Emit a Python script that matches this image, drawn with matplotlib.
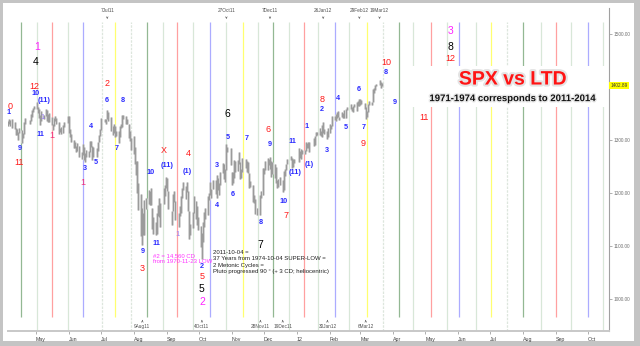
import numpy as np
import pandas as pd
import matplotlib
matplotlib.use('Agg')
import matplotlib.pyplot as plt
import matplotlib.dates as mdates
import matplotlib.patheffects as pe
from matplotlib.patches import Rectangle
from matplotlib.transforms import blended_transform_factory

plt.rcParams['font.family'] = ['Liberation Sans', 'DejaVu Sans']

# SPX daily bars, 2011-04-05 .. 2012-03-21
holidays = ['2011-04-22', '2011-05-30', '2011-07-04', '2011-09-05', '2011-11-24',
            '2011-12-26', '2012-01-02', '2012-01-16', '2012-02-20']

highs = [
    # Apr 2011
    1335, 1339, 1338, 1339, 1333, 1322, 1321, 1315, 1322, 1319, 1313, 1334, 1341,
    1338, 1349, 1357, 1361, 1364,
    # May
    1371, 1362, 1358, 1348, 1354, 1348, 1359, 1357, 1349, 1350, 1344, 1330, 1341,
    1346, 1342, 1333, 1323, 1325, 1328, 1334, 1345,
    # Jun
    1345, 1321, 1312, 1300, 1297, 1288, 1294, 1289, 1277, 1293, 1287, 1275, 1282,
    1280, 1298, 1298, 1288, 1287, 1284, 1296, 1309, 1321,
    # Jul
    1341, 1340, 1340, 1356, 1353, 1343, 1327, 1331, 1326, 1317, 1316, 1327, 1330,
    1347, 1347, 1345, 1339, 1330, 1316, 1304,
    # Aug
    1307, 1287, 1261, 1260, 1218, 1199, 1172, 1163, 1186, 1190, 1205, 1203, 1209,
    1171, 1154, 1145, 1162, 1178, 1190, 1182, 1210, 1215, 1230,
    # Sep
    1228, 1204, 1166, 1198, 1204, 1184, 1163, 1176, 1194, 1209, 1220, 1214, 1220,
    1204, 1166, 1141, 1164, 1195, 1184, 1175, 1155,
    # Oct
    1138, 1125, 1146, 1165, 1171, 1195, 1200, 1220, 1207, 1225, 1224, 1233, 1229,
    1219, 1239, 1256, 1254, 1246, 1293, 1287, 1284,
    # Nov
    1240, 1239, 1263, 1260, 1262, 1277, 1259, 1246, 1266, 1264, 1260, 1259, 1237,
    1222, 1215, 1197, 1188, 1172, 1197, 1204, 1247,
    # Dec
    1248, 1260, 1266, 1264, 1267, 1260, 1258, 1255, 1249, 1225, 1226, 1231, 1224,
    1242, 1245, 1255, 1265, 1269, 1266, 1264, 1264,
    # Jan 2012
    1285, 1279, 1283, 1282, 1282, 1296, 1294, 1297, 1296, 1303, 1308, 1315, 1315,
    1322, 1316, 1328, 1333, 1320, 1316, 1322,
    # Feb
    1330, 1329, 1345, 1345, 1349, 1352, 1354, 1343, 1353, 1351, 1356, 1359, 1363,
    1367, 1362, 1364, 1368, 1371, 1373, 1378,
    # Mar
    1377, 1375, 1370, 1363, 1354, 1368, 1374, 1372, 1396, 1399, 1403, 1405, 1414,
    1409, 1408,
]

lows = [
    1327, 1330, 1326, 1322, 1321, 1309, 1309, 1300, 1313, 1295, 1303, 1312, 1331,
    1331, 1335, 1343, 1352, 1358,
    1359, 1350, 1341, 1329, 1335, 1339, 1346, 1336, 1333, 1334, 1329, 1318, 1326,
    1336, 1331, 1312, 1315, 1312, 1314, 1325, 1332,
    1313, 1305, 1297, 1284, 1284, 1277, 1280, 1268, 1265, 1271, 1262, 1258, 1267,
    1267, 1278, 1286, 1262, 1267, 1267, 1280, 1296, 1307,
    1319, 1333, 1330, 1340, 1335, 1316, 1310, 1314, 1306, 1307, 1295, 1306, 1322,
    1325, 1339, 1331, 1330, 1303, 1299, 1282,
    1274, 1254, 1234, 1200, 1168, 1119, 1101, 1121, 1121, 1170, 1179, 1178, 1177,
    1132, 1123, 1120, 1122, 1156, 1155, 1135, 1179, 1195, 1209,
    1203, 1170, 1140, 1166, 1183, 1149, 1136, 1157, 1163, 1190, 1205, 1189, 1201,
    1166, 1114, 1121, 1133, 1163, 1150, 1139, 1131,
    1099, 1075, 1107, 1135, 1150, 1159, 1187, 1196, 1190, 1207, 1198, 1191, 1206,
    1197, 1215, 1238, 1226, 1221, 1243, 1278, 1253,
    1215, 1218, 1228, 1239, 1241, 1255, 1226, 1229, 1239, 1248, 1240, 1237, 1210,
    1212, 1183, 1181, 1161, 1159, 1159, 1191, 1196,
    1236, 1243, 1244, 1253, 1246, 1231, 1235, 1228, 1219, 1209, 1212, 1215, 1202,
    1205, 1232, 1243, 1254, 1262, 1248, 1249, 1257,
    1258, 1266, 1265, 1274, 1273, 1280, 1285, 1285, 1277, 1289, 1290, 1308, 1309,
    1309, 1307, 1306, 1313, 1311, 1301, 1306,
    1313, 1321, 1326, 1338, 1336, 1342, 1344, 1337, 1343, 1341, 1341, 1341, 1357,
    1358, 1355, 1352, 1363, 1355, 1365, 1364,
    1366, 1368, 1359, 1340, 1344, 1352, 1366, 1366, 1372, 1389, 1394, 1401, 1403,
    1398, 1401,
]

closes = [
    1332, 1335, 1333, 1328, 1324, 1314, 1314, 1314, 1320, 1305, 1312, 1331, 1338,
    1335, 1348, 1355, 1360, 1364,
    1361, 1357, 1348, 1336, 1340, 1347, 1357, 1342, 1348, 1337, 1329, 1328, 1340,
    1344, 1333, 1317, 1316, 1320, 1325, 1331, 1345,
    1315, 1312, 1300, 1286, 1285, 1280, 1289, 1271, 1271, 1288, 1265, 1268, 1272,
    1278, 1296, 1288, 1283, 1268, 1280, 1296, 1307, 1321,
    1340, 1337, 1339, 1353, 1344, 1319, 1313, 1317, 1309, 1316, 1305, 1327, 1325,
    1344, 1345, 1337, 1332, 1304, 1300, 1292,
    1287, 1254, 1260, 1200, 1199, 1119, 1172, 1121, 1172, 1179, 1204, 1192, 1193,
    1140, 1124, 1123, 1162, 1177, 1159, 1177, 1210, 1212, 1219,
    1204, 1174, 1166, 1198, 1185, 1154, 1162, 1172, 1188, 1209, 1216, 1204, 1202,
    1166, 1130, 1136, 1163, 1175, 1152, 1160, 1131,
    1099, 1124, 1144, 1165, 1155, 1195, 1195, 1208, 1204, 1225, 1200, 1225, 1209,
    1215, 1238, 1254, 1229, 1242, 1285, 1285, 1253,
    1218, 1237, 1261, 1253, 1261, 1276, 1229, 1239, 1264, 1252, 1258, 1237, 1216,
    1215, 1193, 1188, 1162, 1159, 1192, 1196, 1247,
    1244, 1244, 1257, 1259, 1262, 1235, 1255, 1236, 1225, 1212, 1216, 1220, 1205,
    1241, 1243, 1254, 1265, 1265, 1249, 1264, 1258,
    1277, 1277, 1281, 1278, 1280, 1292, 1293, 1296, 1289, 1293, 1308, 1314, 1315,
    1316, 1314, 1326, 1318, 1316, 1313, 1312,
    1324, 1325, 1345, 1344, 1347, 1350, 1352, 1342, 1351, 1351, 1343, 1358, 1362,
    1362, 1358, 1364, 1366, 1368, 1373, 1366,
    1374, 1370, 1364, 1343, 1352, 1366, 1371, 1372, 1396, 1394, 1403, 1404, 1409,
    1405, 1403,
]
last_close = 1402.89

# lunar half-cycle markers and their kind
cycle_dates = ['2011-04-17', '2011-05-02', '2011-05-16', '2011-05-31', '2011-06-14',
               '2011-07-02', '2011-07-14', '2011-07-29', '2011-08-13', '2011-08-28',
               '2011-09-11', '2011-09-26', '2011-10-12', '2011-10-27', '2011-11-12',
               '2011-11-26', '2011-12-10', '2011-12-25', '2012-01-08', '2012-01-21',
               '2012-02-06', '2012-02-19', '2012-03-07', '2012-03-22', '2012-04-06',
               '2012-04-19', '2012-05-06', '2012-05-21', '2012-06-02', '2012-06-18',
               '2012-07-02', '2012-07-17', '2012-08-01', '2012-08-18', '2012-09-01',
               '2012-09-15', '2012-10-01', '2012-10-15']
cycle_kinds = ['G', 'n', 'R', 'n', 'B', 'd', 'Y', 'd',
               'G', 'n', 'R', 'n', 'B', 'n', 'Y', 'n',
               'G', 'n', 'R', 'n', 'B', 'n', 'Y', 'd',
               'G', 'n', 'R', 'n', 'B', 'n', 'Y', 'd',
               'G', 'n', 'R', 'n', 'B', 'n']

top_events = ['2011-07-07', '2011-10-27', '2011-12-07', '2012-01-26', '2012-02-29', '2012-03-19']
top_names = ['7Jul11', '27Oct11', '7Dec11', '26Jan12', '29Feb12', '19Mar12']
low_events = ['2011-08-09', '2011-10-04', '2011-11-28', '2011-12-19', '2012-01-30', '2012-03-06']
low_names = ['9Aug11', '4Oct11', '28Nov11', '19Dec11', '30Jan12', '6Mar12']

month_ticks = pd.date_range('2011-05-01', '2012-10-01', freq='MS')
month_names = ['May', 'Jun', 'Jul', 'Aug', 'Sep', 'Oct', 'Nov', 'Dec', '12',
               'Feb', 'Mar', 'Apr', 'May', 'Jun', 'Jul', 'Aug', 'Sep', 'Oct']
price_ticks = [1000, 1100, 1200, 1300, 1400, 1500]

# wave counts: (label, date, price level, kind)
waves = [
    ('0', '2011-04-07', 1364, 'r'), ('1', '2011-04-05', 1351, 'b'),
    ('1', '2011-05-02', 1475, 'm'), ('4', '2011-05-01', 1447, 'k'),
    ('12', '2011-04-29', 1400, 'r'), ('10', '2011-05-01', 1387, 'b'),
    ('(11)', '2011-05-09', 1375, 'b'), ('1', '2011-05-07', 1343, 'v'),
    ('11', '2011-05-05', 1311, 'b'), ('9', '2011-04-16', 1283, 'b'),
    ('11', '2011-04-15', 1257, 'r'), ('1', '2011-05-16', 1309, 'p'),
    ('4', '2011-06-22', 1326, 'b'), ('3', '2011-06-16', 1247, 'b'),
    ('5', '2011-06-26', 1257, 'b'), ('1', '2011-06-14', 1219, 'p'),
    ('2', '2011-07-07', 1406, 'r'), ('6', '2011-07-07', 1375, 'b'),
    ('8', '2011-07-22', 1375, 'b'), ('7', '2011-07-16', 1283, 'b'),
    ('X', '2011-08-29', 1281, 'r'), ('(11)', '2011-09-01', 1251, 'b'),
    ('10', '2011-08-17', 1238, 'b'), ('4', '2011-09-21', 1275, 'r'),
    ('(1)', '2011-09-20', 1240, 'b'), ('11', '2011-08-22', 1104, 'b'),
    ('9', '2011-08-09', 1089, 'b'), ('3', '2011-08-09', 1058, 'r'),
    ('1', '2011-09-11', 1121, 'v'), ('2', '2011-10-04', 1062, 'b'),
    ('5', '2011-10-04', 1042, 'r'), ('5', '2011-10-04', 1019, 'k'),
    ('2', '2011-10-04', 994, 'm'), ('3', '2011-10-18', 1251, 'b'),
    ('4', '2011-10-18', 1177, 'b'), ('6', '2011-10-28', 1349, 'k'),
    ('5', '2011-10-28', 1304, 'b'), ('6', '2011-11-02', 1198, 'b'),
    ('7', '2011-11-15', 1302, 'b'), ('8', '2011-11-28', 1145, 'b'),
    ('7', '2011-11-28', 1102, 'k'), ('6', '2011-12-05', 1319, 'r'),
    ('9', '2011-12-07', 1292, 'b'), ('10', '2011-12-20', 1183, 'b'),
    ('7', '2011-12-22', 1157, 'r'), ('11', '2011-12-28', 1298, 'b'),
    ('(11)', '2011-12-31', 1238, 'b'), ('1', '2012-01-10', 1325, 'b'),
    ('(1)', '2012-01-13', 1253, 'b'), ('8', '2012-01-25', 1377, 'r'),
    ('2', '2012-01-25', 1357, 'b'), ('3', '2012-01-29', 1281, 'b'),
    ('4', '2012-02-09', 1379, 'b'), ('5', '2012-02-16', 1323, 'b'),
    ('6', '2012-02-28', 1396, 'b'), ('7', '2012-03-04', 1323, 'b'),
    ('9', '2012-03-04', 1294, 'r'), ('10', '2012-03-25', 1447, 'r'),
    ('8', '2012-03-25', 1428, 'b'), ('9', '2012-04-02', 1370, 'b'),
    ('11', '2012-04-30', 1343, 'r'), ('3', '2012-05-25', 1506, 'm'),
    ('8', '2012-05-25', 1475, 'k'), ('12', '2012-05-25', 1453, 'r'),
]

note_cd = '#2 = 14,560 CD\nfrom 1970-11-23 LOW'
note_low = ('2011-10-04 =\n37 Years from 1974-10-04 SUPER-LOW =\n2 Metonic Cycles =\n'
            'Pluto progressed 90 \u00b0 (+ 3 CD; heliocentric)')

wave_style = {
    'b': dict(color='#2a2aff', fontsize=5.2, fontweight='bold'),
    'r': dict(color='#ff1a1a', fontsize=6.5),
    'k': dict(color='#000000', fontsize=7.5),
    'm': dict(color='#ff22ff', fontsize=7.5),
    'p': dict(color='#f0307a', fontsize=6.5),
    'v': dict(color='#9a80f5', fontsize=5.5),
}
line_style = {
    'G': dict(color='#93b893', ls='-', lo=966),
    'R': dict(color='#ffa0a0', ls='-', lo=966),
    'B': dict(color='#acacff', ls='-', lo=966),
    'Y': dict(color='#ffff70', ls='-', lo=966),
    'n': dict(color='#d8e7d8', ls='-', lo=939.6),
    'd': dict(color='#dde6dd', ls=(0, (2, 1)), lo=939.6),
}

days = pd.bdate_range('2011-04-05', '2012-03-21', freq='C', holidays=holidays)
assert len(days) == len(highs) == len(lows) == len(closes)

fig = plt.figure(figsize=(6.4, 3.46), dpi=100, facecolor='#c4c4c4')
fig.patches.append(Rectangle((3 / 640, 5 / 346), 631 / 640, 338 / 346,
                             transform=fig.transFigure, facecolor='white',
                             edgecolor='none', zorder=-10))
ax = fig.add_axes([8 / 640, 15 / 346, 601 / 640, 323 / 346])
ax.set_facecolor('white')

# cycle lines
for d, k in zip(pd.to_datetime(cycle_dates), cycle_kinds):
    st = line_style[k]
    ax.vlines(d, st['lo'], 1522.6, color=st['color'], linestyles=st['ls'], lw=0.9, zorder=1)

# price bars
ax.vlines(days, lows, highs, color='#d0d0d0', lw=2.0, zorder=2)
ax.vlines(days, lows, highs, color='#858585', lw=0.5, zorder=3)
ax.scatter(days, closes, s=0.4, color='#606060', marker='s', lw=0, zorder=3)

for lbl, d, p, k in waves:
    ax.text(pd.Timestamp(d), p, lbl, ha='center', va='center', zorder=5, **wave_style[k])

ax.text(pd.Timestamp('2011-08-19'), 1086, note_cd, ha='left', va='top', fontsize=4.3,
        color='#ff33ff', linespacing=1.1, zorder=5)
ax.text(pd.Timestamp('2011-10-14'), 1092, note_low, ha='left', va='top', fontsize=4.3,
        color='#202020', linespacing=1.3, zorder=5)

# title panel
ax.add_patch(Rectangle((0.669, 0.693), 0.326, 0.127, transform=ax.transAxes,
                       facecolor='white', edgecolor='none', zorder=4))
glow = [pe.withStroke(linewidth=3, foreground='#e4e4e4')]
ax.text(0.840, 0.777, 'SPX vs LTD', transform=ax.transAxes, ha='center', va='center',
        fontsize=14, fontweight='bold', color='#ff1414', path_effects=glow, zorder=6)
ax.text(0.840, 0.721, '1971-1974 corresponds to 2011-2014', transform=ax.transAxes,
        ha='center', va='center', fontsize=6.9, fontweight='bold', color='#111111',
        path_effects=[pe.withStroke(linewidth=2, foreground='#e8e8e8')], zorder=6)

# event markers
trans = blended_transform_factory(ax.transData, ax.transAxes)
for d, name in zip(top_events, top_names):
    x = mdates.date2num(pd.Timestamp(d))
    ax.annotate(name, xy=(x, 0.966), xycoords=trans, xytext=(x, 0.991), textcoords=trans,
                ha='center', va='center', fontsize=3.4, color='#505050',
                arrowprops=dict(arrowstyle='->', lw=0.4, color='#505050',
                                shrinkA=1, shrinkB=0, mutation_scale=3))
for d, name in zip(low_events, low_names):
    x = mdates.date2num(pd.Timestamp(d))
    ax.annotate(name, xy=(x, 0.034), xycoords=trans, xytext=(x, 0.0124), textcoords=trans,
                ha='center', va='center', fontsize=3.4, color='#505050',
                arrowprops=dict(arrowstyle='->', lw=0.4, color='#505050',
                                shrinkA=1, shrinkB=0, mutation_scale=3))

# last price tag sits over the 1400 gridline label
ax.text(1.003, last_close, f'{last_close:.2f}', transform=blended_transform_factory(ax.transAxes, ax.transData),
        ha='left', va='center', fontsize=3.4, color='#333333',
        bbox=dict(boxstyle='square,pad=0.3', facecolor='#ffff00', edgecolor='none'))

ax.set_xlim(mdates.date2num(pd.Timestamp('2011-04-04 17:00')),
            mdates.date2num(pd.Timestamp('2012-10-20 17:00')))
ax.set_ylim(939.6, 1549)

ax.set_xticks(month_ticks)
ax.set_xticklabels(month_names, ha='left')
ax.tick_params(axis='x', labelsize=3.8, labelcolor='#404040', color='#909090',
               length=2.5, width=0.5, pad=1.5)
ax.yaxis.tick_right()
ax.set_yticks(price_ticks)
ax.set_yticklabels(['' if v == 1400 else f'{v:.2f}' for v in price_ticks])
ax.tick_params(axis='y', labelsize=3.4, labelcolor='#707070', color='#909090',
               length=2, width=0.5, pad=1)

for side in ['top', 'left']:
    ax.spines[side].set_visible(False)
ax.spines['bottom'].set_color('#c8c8c8')
ax.spines['bottom'].set_linewidth(1.4)
ax.spines['right'].set_color('#a0a0a0')
ax.spines['right'].set_linewidth(0.8)

fig.savefig('out.png', dpi=100, facecolor=fig.get_facecolor())
